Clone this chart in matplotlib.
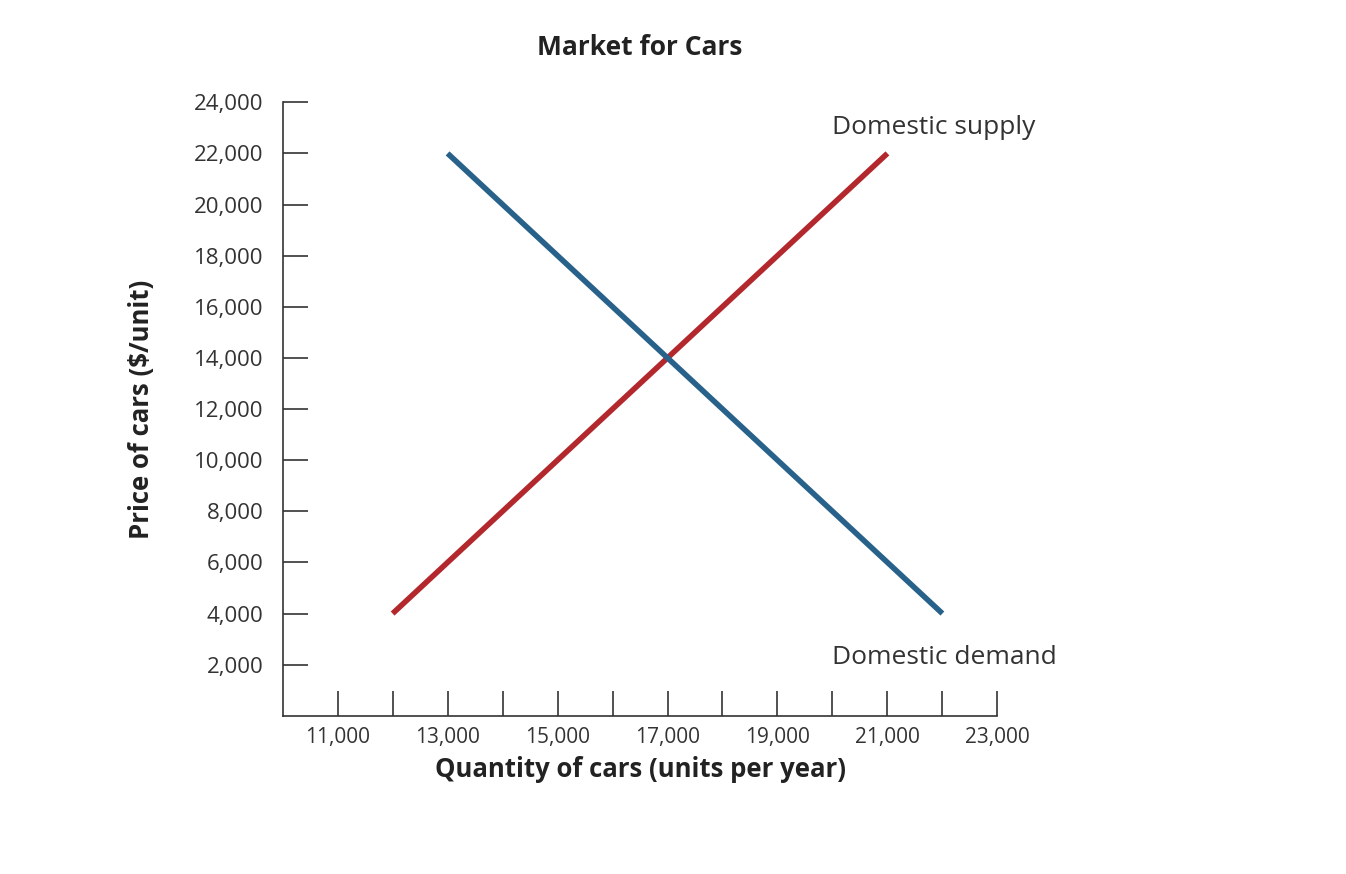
import matplotlib
matplotlib.use("Agg")
import matplotlib.pyplot as plt

supply_q = [12000, 21000]
supply_p = [4000, 22000]
demand_q = [13000, 22000]
demand_p = [22000, 4000]
x_ticks = list(range(11000, 24000, 1000))
x_labels = [f"{v:,}" if (v // 1000) % 2 == 1 else "" for v in x_ticks]
y_ticks = list(range(2000, 26000, 2000))

plt.rcParams['font.family'] = ['Open Sans', 'DejaVu Sans']
fig = plt.figure(figsize=(13.46, 8.74), dpi=100)
ax = fig.add_axes([0.210, 0.181, 0.531, 0.702])
ax.plot(supply_q, supply_p, color='#b3282d', lw=4, solid_capstyle='butt')
ax.plot(demand_q, demand_p, color='#28628a', lw=4, solid_capstyle='butt')
ax.set_xlim(10000, 23000)
ax.set_ylim(0, 24000)
ax.set_xticks(x_ticks)
ax.set_xticklabels(x_labels, fontsize=15, color='#333333')
ax.set_yticks(y_ticks)
ax.set_yticklabels([f"{v:,}" for v in y_ticks], fontsize=16, color='#333333')
ax.tick_params(axis='both', direction='in', length=18, width=1.2, color='#333333')
ax.tick_params(axis='y', pad=14)
ax.tick_params(axis='x', pad=8)
for s in ['top', 'right']:
    ax.spines[s].set_visible(False)
for s in ['left', 'bottom']:
    ax.spines[s].set_linewidth(1.2)
    ax.spines[s].set_color('#333333')
ax.set_xlabel("Quantity of cars (units per year)", fontsize=18.5, fontweight='bold', color='#222222', labelpad=6)
ax.set_ylabel("Price of cars ($/unit)", fontsize=18.5, fontweight='bold', color='#222222', labelpad=28)
ax.set_title("Market for Cars", fontsize=19, fontweight='bold', color='#222222', pad=34)
ax.text(20000, 23000, "Domestic supply", fontsize=19, color='#333333', va='center', ha='left')
ax.text(20000, 2300, "Domestic demand", fontsize=19, color='#333333', va='center', ha='left', clip_on=False)
fig.savefig("out.png", dpi=100)
